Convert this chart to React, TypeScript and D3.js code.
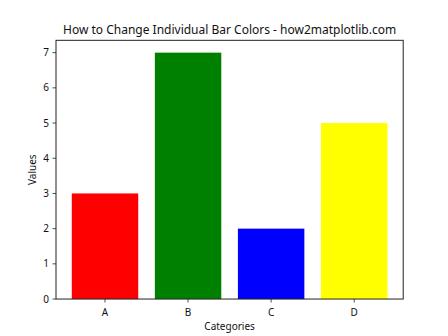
import React from "react";
import * as d3 from "d3";

const categories = ["A", "B", "C", "D"];
const values = [3, 7, 2, 5];
const colors = ["red", "green", "blue", "yellow"];
const yTicks = [0, 1, 2, 3, 4, 5, 6, 7];

const W = 448, H = 336;
const L = 56, R = 403.2, T = 40.32, B = 299.04;
const FONT = "'Noto Sans', 'Open Sans', sans-serif";

export default function App() {
  const x = d3.scaleLinear().domain([-0.59, categories.length - 1 + 0.59]).range([L, R]);
  const y = d3.scaleLinear().domain([0, 7.35]).range([B, T]);
  const bw = 0.8;
  return (
    <svg width={W} height={H} style={{ position: "absolute", left: 0, top: 0 }} fontFamily={FONT}>
      <rect x={0} y={0} width={W} height={H} fill="white" />
      {categories.map((c, i) => (
        <rect key={c} x={x(i - bw / 2)} y={y(values[i])} width={x(i + bw / 2) - x(i - bw / 2)} height={y(0) - y(values[i])} fill={colors[i]} />
      ))}
      <rect x={L} y={T} width={R - L} height={B - T} fill="none" stroke="#222" strokeWidth={1} />
      {yTicks.map((t) => (
        <g key={t}>
          <line x1={L - 3.5} x2={L} y1={y(t)} y2={y(t)} stroke="#222" strokeWidth={0.8} />
          <text x={L - 7} y={y(t)} dy="0.35em" textAnchor="end" fontSize={10} fill="#111">{t}</text>
        </g>
      ))}
      {categories.map((c, i) => (
        <g key={c}>
          <line x1={x(i)} x2={x(i)} y1={B} y2={B + 3.5} stroke="#222" strokeWidth={0.8} />
          <text x={x(i)} y={B + 17} textAnchor="middle" fontSize={10} fill="#111">{c}</text>
        </g>
      ))}
      <text x={(L + R) / 2} y={330} textAnchor="middle" fontSize={10} fill="#111">Categories</text>
      <text transform={`translate(36,${(T + B) / 2}) rotate(-90)`} textAnchor="middle" fontSize={10} fill="#111">Values</text>
      <text x={(L + R) / 2} y={34} textAnchor="middle" fontSize={12} fill="#111">How to Change Individual Bar Colors - how2matplotlib.com</text>
    </svg>
  );
}
